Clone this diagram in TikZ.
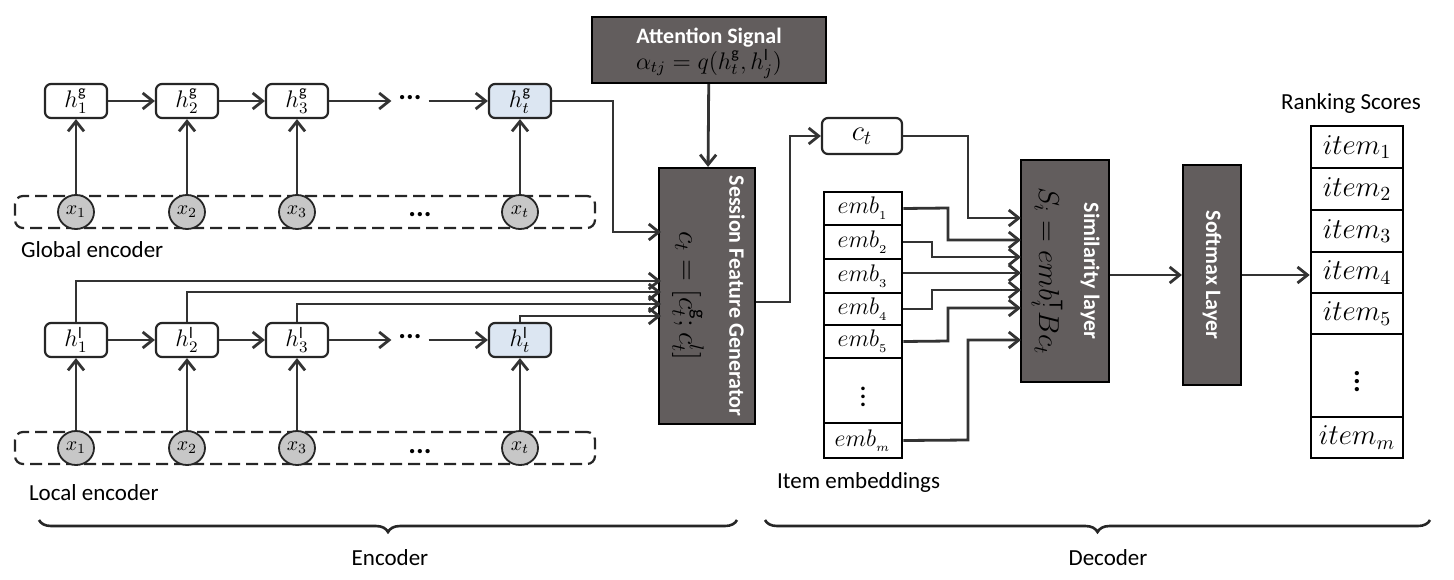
\documentclass[tikz,border=0pt]{standalone}
\usepackage{fontspec}
\setmainfont{Carlito}
\usepackage{amsmath}
\usetikzlibrary{arrows.meta,shapes.geometric,decorations.pathreplacing}
\definecolor{dg}{RGB}{98,93,93}
\definecolor{lb}{RGB}{220,230,242}
\begin{document}
\begin{tikzpicture}[x=0.5pt,y=-0.5pt,
  ln/.style={line width=1.4pt,draw=black!80},
  ar/.style={ln,-{Straight Barb[length=5pt,width=8pt,line width=1.4pt]}},
  hbox/.style={draw=black!85,line width=1.1pt,rounded corners=3pt,fill=white,minimum width=31pt,minimum height=17pt,inner sep=0pt,font=\large},
  xc/.style={ellipse,draw=black!85,line width=0.9pt,fill=black!22,minimum width=18pt,minimum height=17pt,inner sep=0pt},
  dbox/.style={draw=black!85,line width=1.1pt,dashed,dash pattern=on 6pt off 3pt,rounded corners=4pt},
  gbox/.style={draw=black,line width=1.1pt,fill=dg},
  cell/.style={draw=black,line width=1.3pt,fill=white,inner sep=0pt,font=\large},
  lab/.style={font=\fontsize{11.5}{13}\selectfont},
  dots/.style={font=\bfseries\Large},
  br/.style={draw=black!85,line width=1.3pt,decorate,decoration={brace,mirror,amplitude=6pt}}
]
\useasboundingbox (0,0) rectangle (1454,579);
% global row
\node[dbox,minimum width=290pt,minimum height=16pt] (gd) at (305,212) {};
\node[dbox,minimum width=290pt,minimum height=16pt] (ld) at (305,448) {};
\foreach \n/\x/\s/\f in {1/76/1/white,2/187/2/white,3/297/3/white,t/520/t/lb}{
  \node[hbox,fill=\f] (g\n) at (\x,101) {$h_{\s}^{\mathrm g}$};
  \node[hbox,fill=\f] (l\n) at (\x,340) {$h_{\s}^{\mathrm l}$};
  \node[xc] (xg\n) at (\x,212) {$x_{\s}$};
  \node[xc] (xl\n) at (\x,448) {$x_{\s}$};
  \draw[ar] (xg\n) -- (g\n);
  \draw[ar] (xl\n) -- (l\n);
}
\node[dots] (gdots) at (410,98) {...};
\node[dots] (ldots) at (410,337) {...};
\node[dots] at (420,215) {...};
\node[dots] at (420,452) {...};
\draw[ar] (g1) -- (g2); \draw[ar] (g2) -- (g3); \draw[ar] (g3.east) -- (gdots.west |- g3);
\draw[ar] (gdots.east |- gt) -- (gt);
\draw[ar] (l1) -- (l2); \draw[ar] (l2) -- (l3); \draw[ar] (l3.east) -- (ldots.west |- l3);
\draw[ar] (ldots.east |- lt) -- (lt);
\node[lab,anchor=west] (ge) at (14,250) {Global encoder};
\node[lab,anchor=west] (le) at (22,493) {Local encoder};
% SFG and attention
\node[gbox,minimum width=48pt,minimum height=128pt] (sfg) at (707,296) {};
\node[rotate=-90,text=white,font=\bfseries\fontsize{11}{12}\selectfont] at (737,296) {Session Feature Generator};
\node[rotate=-90,font=\Large] at (688,296) {$c_t=[c_t^{\mathrm g};c_t^{l}]$};
\node[gbox,minimum width=117pt,minimum height=33pt] (att) at (709,50) {};
\node[text=white,font=\bfseries\fontsize{11}{12}\selectfont] at (709,38) {Attention Signal};
\node[font=\large] at (709,64) {$\alpha_{tj}=q(h_t^{\mathrm g},h_j^{\mathrm l})$};
\draw[ar] (att) -- (sfg);
\coordinate (s0) at (661,232);
\coordinate (s1) at (661,281);
\coordinate (s2) at (661,292);
\coordinate (s3) at (661,304);
\coordinate (s4) at (661,316);
\draw[ar] (gt.east) -- (613,101) |- (s0);
\draw[ar] (l1.north) |- (s1);
\draw[ar] (l2.north) |- (s2);
\draw[ar] (l3.north) |- (s3);
\draw[ar] (lt.north) |- (s4);
% decoder
\node[hbox,minimum width=40pt,minimum height=18pt,font=\Large] (ct) at (862,136) {$c_t$};
\draw[ar] (sfg.east |- 0,302) -- (790,302) |- (ct.west);
\foreach \n/\a/\b/\t in {1/192/225/$emb_{_1}$,2/225/259/$emb_{_2}$,3/259/293/$emb_{_3}$,4/293/325/$emb_{_4}$,5/325/358/$emb_{_5}$,d/358/423/\textbf{$\vdots$},m/423/458/$emb_{_m}$}{
  \node[cell,minimum width=39pt,minimum height={(\b-\a)/2*1pt}] (e\n) at (863,{(\a+\b)/2}) {\t};
}
\node[lab,anchor=west] at (770,482) {Item embeddings};
\node[gbox,minimum width=44pt,minimum height=111pt] (sim) at (1065,271) {};
\node[rotate=-90,text=white,font=\bfseries\fontsize{11}{12}\selectfont] at (1090,271) {Similarity layer};
\node[rotate=-90,font=\Large] at (1047,271) {$S_i=emb_i^{\mathrm T}Bc_t$};
\node[gbox,minimum width=29pt,minimum height=110pt] (sm) at (1212,275) {};
\node[rotate=-90,text=white,font=\bfseries\fontsize{11}{12}\selectfont] at (1212,275) {Softmax Layer};
\foreach \i/\y in {1/218,2/240,3/257,4/273,5/290,6/308,7/340}{\coordinate (t\i) at (1021,\y);}
\draw[ar] (ct.east) -- (968,136) |- (t1);
\draw[ar] (e1.east) -- (948,208) |- (t2);
\draw[ar] (e2.east) -- (932,242) |- (t3);
\draw[ar] (e3.east |- t4) -- (t4);
\draw[ar] (e4.east) -- (932,309) |- (t5);
\draw[ar] (e5.east) -- (948,341) |- (t6);
\draw[ar] (em.east) -- (968,440) |- (t7);
\draw[ar] (sim.east |- 0,275) -- (sm.west |- 0,275);
\foreach \n/\a/\b/\t in {1/126/168/$item_1$,2/168/210/$item_2$,3/210/252/$item_3$,4/252/293/$item_4$,5/293/334/$item_5$,d/334/417/\textbf{$\vdots$},m/417/458/$item_m$}{
  \node[cell,minimum width=46pt,minimum height={(\b-\a)/2*1pt},font=\Large] (i\n) at (1357,{(\a+\b)/2}) {\t};
}
\draw[ar] (sm.east |- 0,275) -- (i4.west |- 0,275);
\node[lab] at (1351,103) {Ranking Scores};
% braces
\draw[br] (39,520) -- (737,520);
\node[lab] at (390,558) {Encoder};
\draw[br] (765,520) -- (1430,520);
\node[lab] at (1108,558) {Decoder};
\end{tikzpicture}
\end{document}
